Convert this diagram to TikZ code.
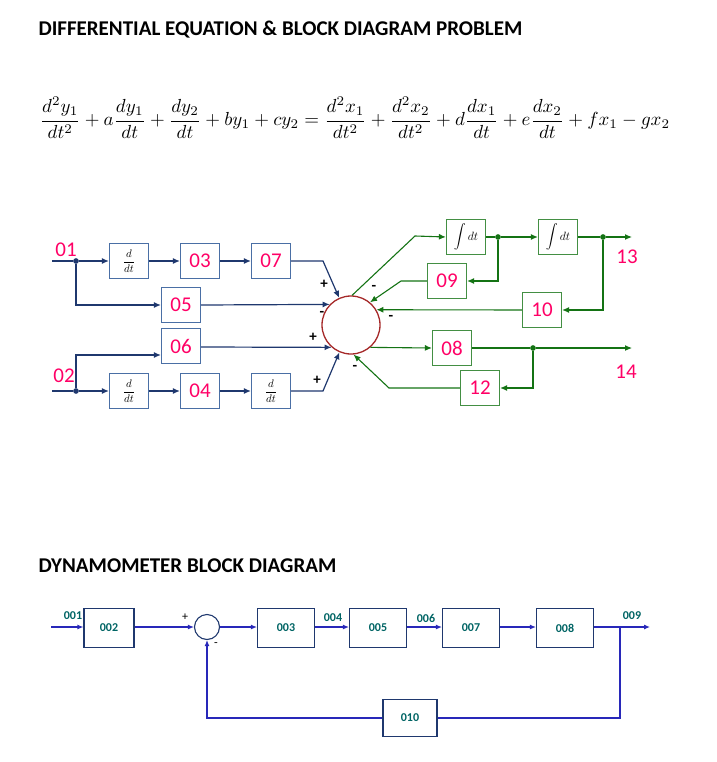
\documentclass[tikz,border=0pt]{standalone}
\usepackage{fontspec}
\setmainfont{Carlito}
\usepackage{amsmath}
\usetikzlibrary{arrows.meta,calc}
\definecolor{navy}{RGB}{31,56,110}
\definecolor{boxblue}{RGB}{74,111,165}
\definecolor{pinkred}{RGB}{255,0,102}
\definecolor{dgreen}{RGB}{20,115,20}
\definecolor{sumred}{RGB}{165,40,40}
\definecolor{lblue}{RGB}{40,40,185}
\definecolor{teal}{RGB}{0,100,100}
\tikzset{
  blk/.style={draw=boxblue, line width=1.2pt, fill=white, minimum width=39pt, minimum height=35pt, inner sep=0pt,
    text=pinkred, font=\fontsize{21}{23}\selectfont},
  dblk/.style={blk, text=black, font=\fontsize{11}{13}\selectfont},
  gblk/.style={blk, draw=dgreen!80},
  lbl/.style={text=pinkred, font=\fontsize{21}{23}\selectfont},
  sgn/.style={font=\fontsize{15}{17}\selectfont\bfseries},
  nl/.style={navy, line width=1.2pt, -{Latex[length=7pt,width=6pt]}},
  gl/.style={dgreen, line width=1.1pt, -{Latex[length=7pt,width=6pt]}},
  dot/.style={circle, fill, inner sep=2pt},
  bblk/.style={draw=navy, line width=1.1pt, minimum width=50pt, minimum height=39pt, inner sep=0pt,
    text=teal, font=\fontsize{12}{14}\selectfont\bfseries},
  bl/.style={lblue, line width=1.1pt, -{Latex[length=6pt,width=5pt]}},
  bt/.style={text=teal, font=\fontsize{12}{14}\selectfont\bfseries}
}
\begin{document}
\begin{tikzpicture}[x=1pt,y=-1pt]
  \useasboundingbox (0,0) rectangle (716,762);
  \node (t1) at (35,30) [anchor=west, font=\fontsize{21}{24}\selectfont\bfseries]{DIFFERENTIAL EQUATION \& BLOCK DIAGRAM PROBLEM};
  \node (eq) at (355,118) {\resizebox{630pt}{!}{$\displaystyle \frac{d^2y_1}{dt^2}+a\frac{dy_1}{dt}+\frac{dy_2}{dt}+by_1+cy_2=\frac{d^2x_1}{dt^2}+\frac{d^2x_2}{dt^2}+d\frac{dx_1}{dt}+e\frac{dx_2}{dt}+fx_1-gx_2$}};
  % problem diagram
  \node (s) at (351,325) [circle, draw=sumred, line width=1.3pt, minimum size=58pt]{};
  \coordinate (in1) at (52,261);
  \coordinate (in2) at (52,391);
  \node (j1) at (76,261) [dot, navy]{};
  \node (j2) at (76,391) [dot, navy]{};
  \node (d1) at (129,261) [dblk]{$\displaystyle\frac{d}{dt}$};
  \node (o3) at (200,261) [blk]{03};
  \node (o7) at (271,261) [blk]{07};
  \node (o5) at (181,305) [blk]{05};
  \node (o6) at (181,346) [blk]{06};
  \node (d2) at (129,391) [dblk]{$\displaystyle\frac{d}{dt}$};
  \node (o4) at (200,391) [blk]{04};
  \node (d3) at (271,391) [dblk]{$\displaystyle\frac{d}{dt}$};
  \node (l1) at (66,250) [lbl]{01};
  \node (l2) at (64,376) [lbl]{02};
  \draw[navy, line width=1.2pt] (in1) -- (j1);
  \draw[navy, line width=1.2pt] (in2) -- (j2);
  \draw[nl] (j1) -- (d1);
  \draw[nl] (d1) -- (o3);
  \draw[nl] (o3) -- (o7);
  \draw[nl] (o7.east) -- (323,261) -- (s);
  \draw[nl] (j1) |- (o5.west);
  \draw[nl] (o5.east) -- (s.136);
  \draw[nl] (j2) |- ($(o6.west)+(0,9)$);
  \draw[nl] ($(o6.east)+(0,1)$) -- (s.229);
  \draw[nl] (j2) -- (d2);
  \draw[nl] (d2) -- (o4);
  \draw[nl] (o4) -- (d3);
  \draw[nl] (d3.east) -- (323,391) -- (s);
  \node at (324,284) [sgn]{+};
  \node at (322,314) [sgn]{-};
  \node at (313,337) [sgn]{+};
  \node at (317,380) [sgn]{+};
  % green side
  \node (i1) at (466,237) [gblk, text=black, font=\fontsize{13}{15}\selectfont]{$\displaystyle\int dt$};
  \node (i2) at (558,237) [gblk, text=black, font=\fontsize{13}{15}\selectfont]{$\displaystyle\int dt$};
  \node (o9) at (447,281) [gblk]{09};
  \node (o10) at (542,310) [gblk]{10};
  \node (o8) at (452,348) [gblk]{08};
  \node (o12) at (480,388) [gblk]{12};
  \node (k1) at (498,237) [dot, dgreen]{};
  \node (k2) at (603,237) [dot, dgreen]{};
  \node (k3) at (533,348) [dot, dgreen]{};
  \coordinate (out1) at (632,237);
  \coordinate (out2) at (632,348);
  \node (l13) at (627,257) [lbl]{13};
  \node (l14) at (626,372) [lbl]{14};
  \draw[gl] (s.88) -- (415,236) -- (i1.west);
  \draw[dgreen, line width=1.1pt] (i1) -- (k1);
  \draw[gl] (k1) -- (i2);
  \draw[dgreen, line width=1.1pt] (i2) -- (k2);
  \draw[gl] (k2) -- (out1);
  \draw[gl] (k1) |- (o9.east);
  \draw[gl] (o9.west) -- (401,281) -- (s.50);
  \draw[gl] (k2) |- (o10.east);
  \draw[gl] (o10.west) -- (s.31);
  \draw[gl] (s.-49) -- (o8.west);
  \draw[dgreen, line width=1.1pt] (o8) -- (k3);
  \draw[gl] (k3) -- (out2);
  \draw[gl] (k3) |- (o12.east);
  \draw[gl] (o12.west) -- (389,388) -- (s.-85);
  \node at (374,288) [sgn]{-};
  \node at (391,318) [sgn]{-};
  \node at (355,368) [sgn]{-};
  % dynamometer
  \node (t2) at (35,566) [anchor=west, font=\fontsize{21}{24}\selectfont\bfseries]{DYNAMOMETER BLOCK DIAGRAM};
  \coordinate (b1) at (51,627);
  \node (b2) at (109,628) [bblk]{002};
  \node (c) at (207,627) [circle, draw=navy, line width=1.1pt, minimum size=25pt]{};
  \node (b3) at (286,628) [bblk, minimum width=57pt]{003};
  \node (b5) at (378,628) [bblk, minimum width=57pt]{005};
  \node (b7) at (471,628) [bblk, minimum width=57pt]{007};
  \node (b8) at (565,628) [bblk, minimum width=57pt]{008};
  \node (b10) at (410,718) [bblk, minimum width=54pt, minimum height=37pt]{010};
  \coordinate (b9) at (650,627);
  \coordinate (bf) at (620,627);
  \draw[bl] (b1) -- (b2.west |- b1);
  \draw[bl] (b2.east |- c) -- (c);
  \draw[bl] (c) -- (b3.west |- c);
  \draw[bl] (b3.east |- c) -- (b5.west |- c);
  \draw[bl] (b5.east |- c) -- (b7.west |- c);
  \draw[bl] (b7.east |- c) -- (b8.west |- c);
  \draw[bl] (b8.east |- c) -- (b9);
  \draw[lblue, line width=1.1pt] (bf) |- (b10.east);
  \draw[bl] (b10.west) -| (c.south);
  \node at (73,616) [bt]{001};
  \node at (333,618) [bt]{004};
  \node at (426,618) [bt]{006};
  \node at (632,616) [bt]{009};
  \node at (185,617) [font=\fontsize{12}{14}\selectfont]{+};
  \node at (216,645) [font=\fontsize{12}{14}\selectfont]{-};
\end{tikzpicture}
\end{document}
